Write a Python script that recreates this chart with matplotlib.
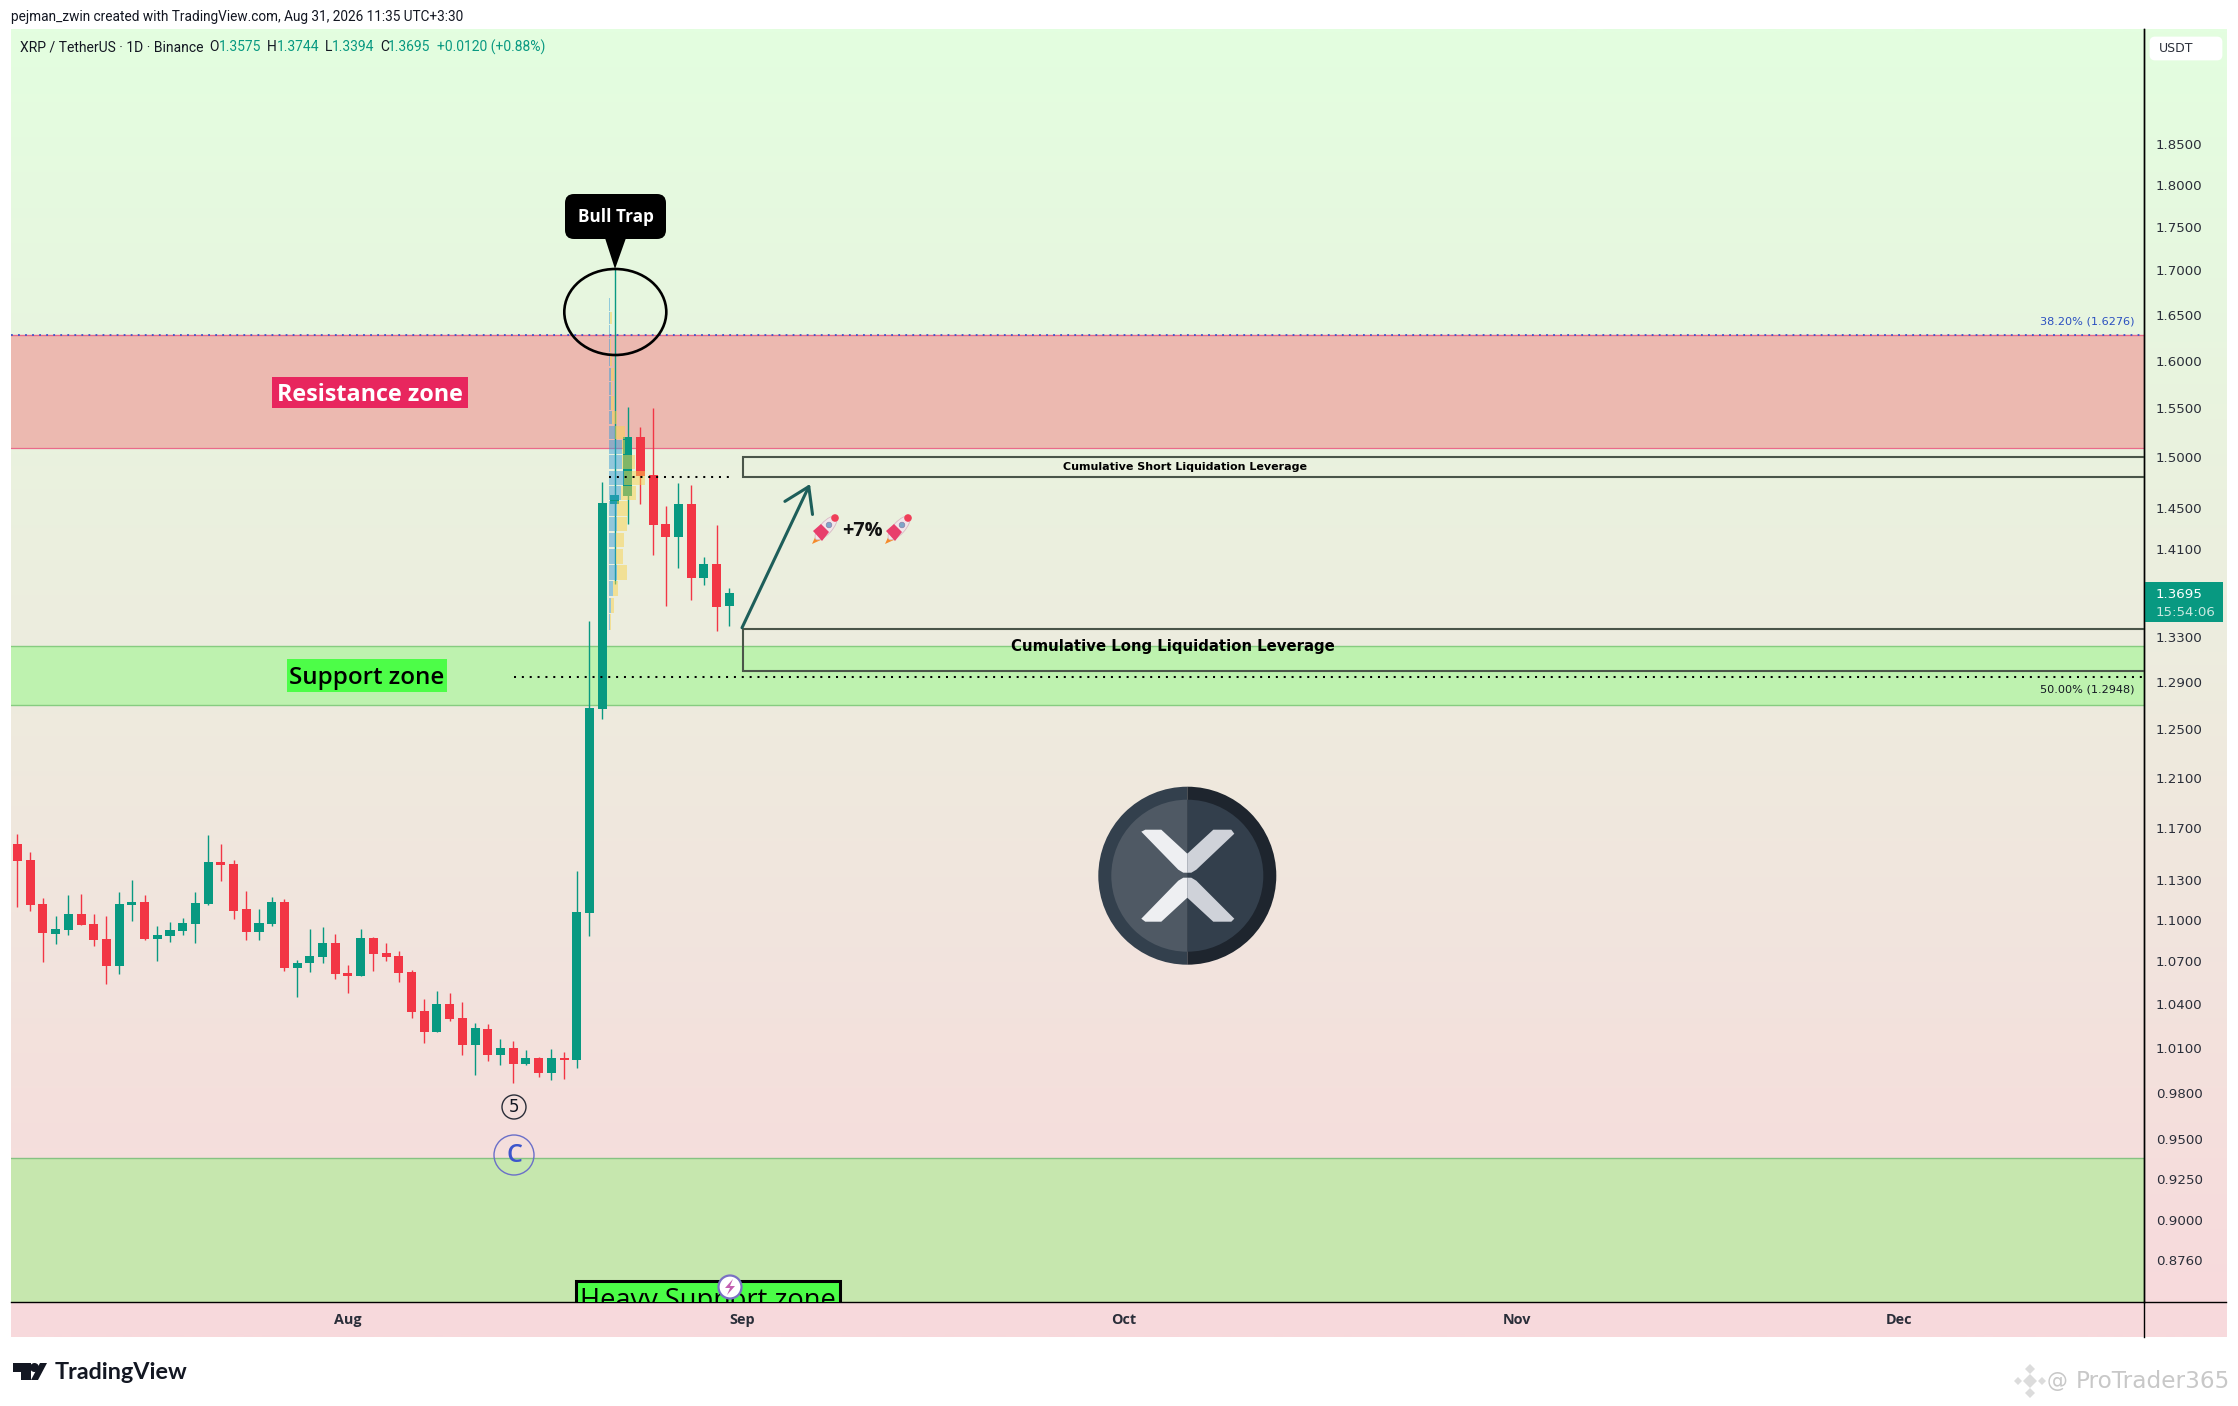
import numpy as np
import pandas as pd
import matplotlib
matplotlib.use("Agg")
import matplotlib.pyplot as plt
import matplotlib.dates as mdates
from matplotlib.patches import Rectangle, Ellipse, Circle, Wedge, Polygon, FancyBboxPatch
from matplotlib.ticker import FixedLocator, FixedFormatter, NullLocator

# daily XRP candles
dates = pd.date_range("2026-07-06", periods=57)
opens = [1.1576, 1.1453, 1.1121, 1.0900, 1.0929, 1.1046, 1.0973, 1.0863, 1.0668, 1.1113,
         1.1136, 1.0863, 1.0885, 1.0922, 1.0973, 1.1121, 1.1438, 1.1422, 1.1083, 1.0914,
         1.0973, 1.1136, 1.0654, 1.0690, 1.0733, 1.0834, 1.0618, 1.0597, 1.0871, 1.0761,
         1.0740, 1.0625, 1.0351, 1.0207, 1.0400, 1.0303, 1.0118, 1.0228, 1.0051, 1.0098,
         0.9991, 1.0031, 0.9930, 1.0031, 1.0018, 1.1054, 1.2673, 1.4541, 1.4615, 1.5204,
         1.4822, 1.4343, 1.4219, 1.4537, 1.3838, 1.3963, 1.3575]
highs = [1.1654, 1.1514, 1.1166, 1.1031, 1.1188, 1.1195, 1.1046, 1.1031, 1.1210, 1.1300,
         1.1188, 1.0958, 1.0988, 1.1017, 1.1210, 1.1647, 1.1576, 1.1453, 1.1218, 1.1083,
         1.1173, 1.1158, 1.0711, 1.0936, 1.0951, 1.0900, 1.0676, 1.0936, 1.0878, 1.0834,
         1.0776, 1.0640, 1.0435, 1.0491, 1.0477, 1.0414, 1.0269, 1.0262, 1.0159, 1.0146,
         1.0085, 1.0038, 1.0091, 1.0071, 1.1369, 1.3440, 1.4752, 1.7014, 1.5513, 1.5305,
         1.5502, 1.4517, 1.4743, 1.4723, 1.4029, 1.4332, 1.3744]
lows = [1.1098, 1.1068, 1.0697, 1.0827, 1.0892, 1.0966, 1.0812, 1.0540, 1.0611, 1.0995,
        1.0856, 1.0704, 1.0841, 1.0892, 1.0834, 1.1113, 1.1293, 1.1010, 1.0856, 1.0856,
        1.0958, 1.0633, 1.0449, 1.0625, 1.0690, 1.0575, 1.0477, 1.0597, 1.0633, 1.0704,
        1.0554, 1.0303, 1.0132, 1.0207, 1.0283, 1.0051, 0.9917, 1.0011, 0.9984, 0.9863,
        0.9984, 0.9903, 0.9883, 0.9890, 0.9964, 1.0884, 1.2587, 1.3782, 1.4347, 1.4541,
        1.4047, 1.3579, 1.3931, 1.3635, 1.3772, 1.3353, 1.3394]
closes = [1.1445, 1.1113, 1.0907, 1.0936, 1.1046, 1.0966, 1.0856, 1.0668, 1.1121, 1.1136,
          1.0863, 1.0892, 1.0929, 1.0980, 1.1128, 1.1438, 1.1415, 1.1068, 1.0914, 1.0980,
          1.1136, 1.0654, 1.0690, 1.0740, 1.0834, 1.0611, 1.0597, 1.0871, 1.0753, 1.0733,
          1.0618, 1.0344, 1.0207, 1.0400, 1.0296, 1.0118, 1.0235, 1.0051, 1.0098, 0.9991,
          1.0031, 0.9930, 1.0031, 1.0018, 1.1060, 1.2680, 1.4547, 1.4624, 1.5204, 1.4811,
          1.4332, 1.4219, 1.4537, 1.3838, 1.3963, 1.3570, 1.3695]

# visible range volume profile, price row edges and up / down volume per row
vp_edges = [1.3361, 1.3513, 1.3664, 1.3816, 1.3968, 1.4119, 1.4271, 1.4423, 1.4575, 1.4726,
            1.4878, 1.5030, 1.5181, 1.5333, 1.5485, 1.5636, 1.5788, 1.5940, 1.6091, 1.6243,
            1.6395, 1.6546, 1.6698]
vp_up = [1, 2, 4, 8, 7, 7, 8, 8, 12, 15, 13, 13, 6, 3, 1.5, 2, 2, 1, 1, 1, 0.8, 0.8]
vp_down = [1, 3, 5, 10, 7, 8, 10, 11, 15, 21, 13, 3, 10, 5, 3, 1, 3, 1.5, 1, 0, 2, 0]

price_ticks = [1.85, 1.80, 1.75, 1.70, 1.65, 1.60, 1.55, 1.50, 1.45, 1.41, 1.33, 1.29, 1.25,
               1.21, 1.17, 1.13, 1.10, 1.07, 1.04, 1.01, 0.98, 0.95, 0.925, 0.90, 0.876]
month_ticks = ["2026-08-01", "2026-09-01", "2026-10-01", "2026-11-01", "2026-12-01"]
month_labels = ["Aug", "Sep", "Oct", "Nov", "Dec"]

# zones and levels
resistance = (1.5096, 1.6276)
support = (1.2704, 1.3218)
heavy_support_top = 0.9379
fib_382 = 1.6276
fib_50 = 1.2948
poc = 1.4803
short_liq = (1.4803, 1.5003)
long_liq = (1.2998, 1.3366)
last_close = 1.3695

UP = "#089981"
DOWN = "#f23645"
DARK = "#131722"
FONT = ["Open Sans", "DejaVu Sans"]

W, H = 2238, 1406
fig = plt.figure(figsize=(W / 100, H / 100), dpi=100, facecolor="white")

def axes_px(x0, y0, x1, y1):
    return fig.add_axes([x0 / W, 1 - y1 / H, (x1 - x0) / W, (y1 - y0) / H])

# background gradient of the whole panel
bg = axes_px(11, 29, 2227, 1337)
top_c = np.array([227, 254, 224]) / 255
bot_c = np.array([248, 217, 220]) / 255
grad = np.linspace(0, 1, 256)[:, None, None] * (bot_c - top_c) + top_c
bg.imshow(grad, aspect="auto", interpolation="bilinear")
bg.axis("off")

# main price axes
ax = axes_px(11, 29, 2144, 1302)
ax.set_zorder(2)
ax.patch.set_alpha(0)
ax.set_yscale("log")
x = mdates.date2num(dates)
sep1 = mdates.date2num(pd.Timestamp("2026-09-01"))
ax.set_xlim(sep1 - 57.51, sep1 + 110.3)
ax.set_ylim(0.8518, 1.9981)
x_right = sep1 + 110.3

ax.yaxis.tick_right()
ax.yaxis.set_major_locator(FixedLocator(price_ticks))
ax.yaxis.set_major_formatter(FixedFormatter(["%.4f" % p for p in price_ticks]))
ax.yaxis.set_minor_locator(NullLocator())
ax.tick_params(axis="y", length=0, pad=8.5, labelsize=9.6, labelcolor="#2a2e39")
ax.set_xticks(mdates.date2num(pd.to_datetime(month_ticks)))
ax.set_xticklabels(month_labels, fontsize=10.4, fontweight="bold", color="#2a2e39", family=["Open Sans"])
ax.tick_params(axis="x", length=0, pad=8)
for s in ["top", "left"]:
    ax.spines[s].set_visible(False)
for s in ["right", "bottom"]:
    ax.spines[s].set_color("black")
    ax.spines[s].set_linewidth(1.0)

# zones
ax.axhspan(resistance[0], resistance[1], facecolor="#ecb9b0", edgecolor="none", zorder=1)
ax.axhline(resistance[0], color="#ea6a8a", lw=0.9, zorder=1.5)
ax.axhline(resistance[1], color="#ea6a8a", lw=1.0, zorder=1.5)
ax.axhspan(support[0], support[1], facecolor="#bef2af", edgecolor="none", zorder=1)
ax.axhline(support[0], color="#86cc80", lw=1.0, zorder=1.5)
ax.axhline(support[1], color="#86cc80", lw=1.0, zorder=1.5)
ax.axhspan(0.8, heavy_support_top, facecolor="#c6e7ae", edgecolor="none", zorder=1)
ax.axhline(heavy_support_top, color="#86c282", lw=1.0, zorder=1.5)

# candles
colors = [UP if c >= o else DOWN for o, c in zip(opens, closes)]
ax.vlines(x, lows, highs, colors=colors, lw=1.0, zorder=3)
body_low = np.minimum(opens, closes)
body_h = np.abs(np.array(closes) - np.array(opens))
ax.bar(x, body_h, bottom=body_low, width=0.71, color=colors, linewidth=0, zorder=3)

# volume profile sits above the candles
vp_left = sep1 - 10.46
vp_scale = 1 / 12.71
e = np.array(vp_edges)
h = np.diff(e) * 0.92
up_w = np.array(vp_up) * vp_scale
down_w = np.array(vp_down) * vp_scale
ax.barh(e[:-1], up_w, height=h, left=vp_left, align="edge", color="#3a9fd9", alpha=0.5, linewidth=0, zorder=4)
ax.barh(e[:-1], down_w, height=h, left=vp_left + up_w, align="edge", color="#f8d34d", alpha=0.5, linewidth=0, zorder=4)

# fib levels and the dotted lines
dots = (0, (1, 2.9))
ax.axhline(fib_382, color="#3a55cc", lw=1.3, ls=dots, zorder=5)
ax.hlines(fib_50, sep1 - 17.9, x_right, color="black", lw=1.45, ls=dots, zorder=5)
ax.hlines(poc, sep1 - 10.46, sep1 - 0.8, color="black", lw=1.45, ls=dots, zorder=5)

# liquidation boxes
for lo, hi in [short_liq, long_liq]:
    ax.add_patch(Rectangle((sep1 + 0.05, lo), x_right - sep1 + 1, hi - lo, fill=False,
                           edgecolor="#4a5549", lw=1.5, zorder=5))

# arrow up to the short liquidation box
ax.annotate("", xy=(sep1 + 5.35, 1.4732), xytext=(sep1, 1.3380),
            arrowprops=dict(arrowstyle="->,head_length=0.85,head_width=0.55", color="#1d5e5a",
                            lw=2.2, shrinkA=0, shrinkB=0, mutation_scale=20), zorder=6)

# overlay in figure pixels for the drawn annotations and captions
ov = fig.add_axes([0, 0, 1, 1])
ov.set_zorder(5)
ov.set_xlim(0, W)
ov.set_ylim(H, 0)
ov.axis("off")
ov.patch.set_alpha(0)

def txt(px, py, s, size=9, color=DARK, weight="normal", ha="left", va="center", family=None, **kw):
    return ov.text(px, py, s, fontsize=size, color=color, fontweight=weight, ha=ha, va=va,
                   family=family if family else FONT, **kw)

# panel frame pieces beyond the axes
ov.plot([2144, 2226], [1302, 1302], color="black", lw=1.0)
ov.plot([2144, 2144], [1302, 1337], color="black", lw=1.0)
ov.plot([2144, 2144], [29, 1302], color="black", lw=1.0)

# header
txt(11, 17, "pejman_zwin created with TradingView.com, Aug 31, 2026 11:35 UTC+3:30", size=9.85, family=["Roboto"])
txt(20, 47, "XRP / TetherUS · 1D · Binance", size=10, family=["Roboto"])
for px, s, c in [(209, "O", DARK), (219, "1.3575", UP), (267, "H", DARK), (277, "1.3744", UP),
                 (325, "L", DARK), (332, "1.3394", UP), (380, "C", DARK), (388, "1.3695", UP),
                 (437, "+0.0120 (+0.88%)", UP)]:
    txt(px, 47, s, size=10, color=c, family=["Roboto"])

# USDT button and last price tag
ov.add_patch(FancyBboxPatch((2151, 38), 70, 21, boxstyle="round,pad=0,rounding_size=4", fc="white", ec="white", lw=2))
txt(2159, 49, "USDT", size=9, family=["DejaVu Sans"], color="#2a2e39")
ov.add_patch(Rectangle((2145, 582), 78, 40, fc=UP, ec="none"))
txt(2156, 594, "%.4f" % last_close, size=9.6, color="white", family=["DejaVu Sans"])
txt(2156, 612, "15:54:06", size=9.6, color="#c8e8e0", family=["DejaVu Sans"])

# fib captions
txt(2135, 321, "38.20% (1.6276)", size=8.15, color="#2a4fc0", ha="right", family=["DejaVu Sans"])
txt(2135, 689, "50.00% (1.2948)", size=8.15, color=DARK, ha="right", family=["DejaVu Sans"])

# zone captions
ov.add_patch(Rectangle((272, 377), 196, 31, fc="#e8265e", ec="none"))
txt(370, 395, "Resistance zone", size=16.8, color="white", weight="bold", ha="center")
ov.add_patch(Rectangle((287, 659), 160, 33, fc="#4dfd48", ec="none"))
txt(367, 678, "Support zone", size=17.4, color="black", weight=600, ha="center")
txt(1185, 467.5, "Cumulative Short Liquidation Leverage", size=8.0, color="black", weight="bold", ha="center", family=["DejaVu Sans"])
txt(1173, 647, "Cumulative Long Liquidation Leverage", size=10.7, color="black", weight="bold", ha="center", family=["DejaVu Sans"])

# heavy support caption is cut by the time axis, so it goes on the main axes
ax.add_patch(Rectangle((576, 1281), 264, 40, transform=ov.transData, fc="#4bfd47", ec="black", lw=2.2, zorder=6))
ax.text(708, 1301, "Heavy Support zone", transform=ov.transData, fontsize=19.6, color="black", ha="center",
        va="center", family=FONT, clip_on=True, zorder=7)

# bull trap callout and the ellipse
ov.add_patch(FancyBboxPatch((565, 194), 101, 45, boxstyle="round,pad=0,rounding_size=9", fc="black", ec="black", lw=0))
ov.add_patch(Polygon([(605, 238), (626, 238), (615, 269)], fc="black", ec="none"))
txt(615.5, 217.5, "Bull Trap", size=12.3, color="white", weight="bold", ha="center")
ov.add_patch(Ellipse((615.3, 312), 102, 86, fill=False, ec="black", lw=1.9))

# wave labels
ov.add_patch(Circle((514, 1107), 12, fill=False, ec="#2a2e39", lw=1.0))
txt(514, 1107, "5", size=12, color=DARK, ha="center", family=["DejaVu Sans"])
ov.add_patch(Circle((514, 1155), 20, fill=False, ec="#6a6fc8", lw=1.0))
txt(514, 1155, "C", size=18, color="#3c55cc", ha="center", weight=600)

# rockets and +7%
def rocket(cx, cy):
    ov.add_patch(Polygon([(cx - 13, cy + 15), (cx - 8, cy + 4), (cx - 2, cy + 10)], fc="#f58a2a", ec="none", zorder=3))
    ov.add_patch(Ellipse((cx + 1, cy - 1), 30, 12, angle=-48, fc="#f1e6ea", ec="#d9b8c4", lw=0.6, zorder=4))
    ov.add_patch(Polygon([(cx - 12, cy + 2), (cx - 4, cy - 5), (cx + 4, cy + 3), (cx - 3, cy + 12)], fc="#e83e6c", ec="none", zorder=5))
    ov.add_patch(Circle((cx + 10, cy - 11), 3.8, fc="#ef3f58", ec="none", zorder=5))
    ov.add_patch(Circle((cx + 4, cy - 4), 2.8, fc="#7fa6c8", ec="#8c7fa8", lw=0.5, zorder=5))

rocket(825, 529)
rocket(898, 529)
txt(862, 531.5, "+7%", size=14.3, color="#111111", weight="bold", ha="center")

# xrp logo
lx, ly = 1187.3, 875.7
ov.add_patch(Wedge((lx, ly), 89, 90, 270, fc="#33404d", ec="none"))
ov.add_patch(Wedge((lx, ly), 89, 270, 450, fc="#1e252e", ec="none"))
ov.add_patch(Wedge((lx, ly), 76, 90, 270, fc="#4f5964", ec="none"))
ov.add_patch(Wedge((lx, ly), 76, 270, 450, fc="#333f4c", ec="none"))
x_parts = [
    ([(-46, -44), (-42, -46), (-26, -46), (0, -22), (0, -3), (-4, -3), (-9, -6)], "#eeeff2"),
    ([(0, -22), (26, -46), (44, -46), (47, -42), (9, -6), (4, -3), (0, -3)], "#cfd2d9"),
    ([(-46, 43), (-9, 5), (-4, 2), (0, 2), (0, 22), (-26, 46), (-42, 46)], "#eeeff2"),
    ([(0, 2), (4, 2), (9, 5), (47, 43), (44, 46), (26, 46), (0, 22)], "#cfd2d9"),
]
for pts, c in x_parts:
    ov.add_patch(Polygon([(lx + a, ly + b) for a, b in pts], fc=c, ec="none"))

# lightning badge over the heavy support caption
ov.add_patch(Circle((730, 1287), 11.5, fc="white", ec="#7a70c4", lw=1.6))
ov.add_patch(Polygon([(733, 1279), (725, 1288), (730, 1288), (727, 1295), (735, 1286), (730, 1286)], fc="#c45fb0", ec="none"))

# tradingview logo at the bottom
ov.add_patch(Polygon([(13, 1363), (31, 1363), (31, 1380), (21, 1380), (21, 1372), (13, 1372)], fc=DARK, ec="none"))
ov.add_patch(Circle((34.5, 1367.5), 4.5, fc=DARK, ec="none"))
ov.add_patch(Polygon([(40, 1363), (47, 1363), (38, 1380), (31, 1380)], fc=DARK, ec="none"))
txt(55, 1372.5, "TradingView", size=16.8, color=DARK, weight="bold", family=["Lato", "DejaVu Sans"])

# watermark
for dx, dy, r in [(0, 0, 7), (-12, 0, 4), (12, 0, 4), (0, -12, 5), (0, 12, 5)]:
    ov.add_patch(Polygon([(2030 + dx - r, 1381 + dy), (2030 + dx, 1381 + dy - r), (2030 + dx + r, 1381 + dy), (2030 + dx, 1381 + dy + r)],
                         fc="#dcdcdc", ec="none"))
txt(2047, 1381, "@", size=15, color="#c8c8c8", family=["DejaVu Sans"])
txt(2076, 1381, "ProTrader365", size=16.7, color="#c8c8c8", family=["DejaVu Sans"])

fig.savefig("out.png", dpi=100)
